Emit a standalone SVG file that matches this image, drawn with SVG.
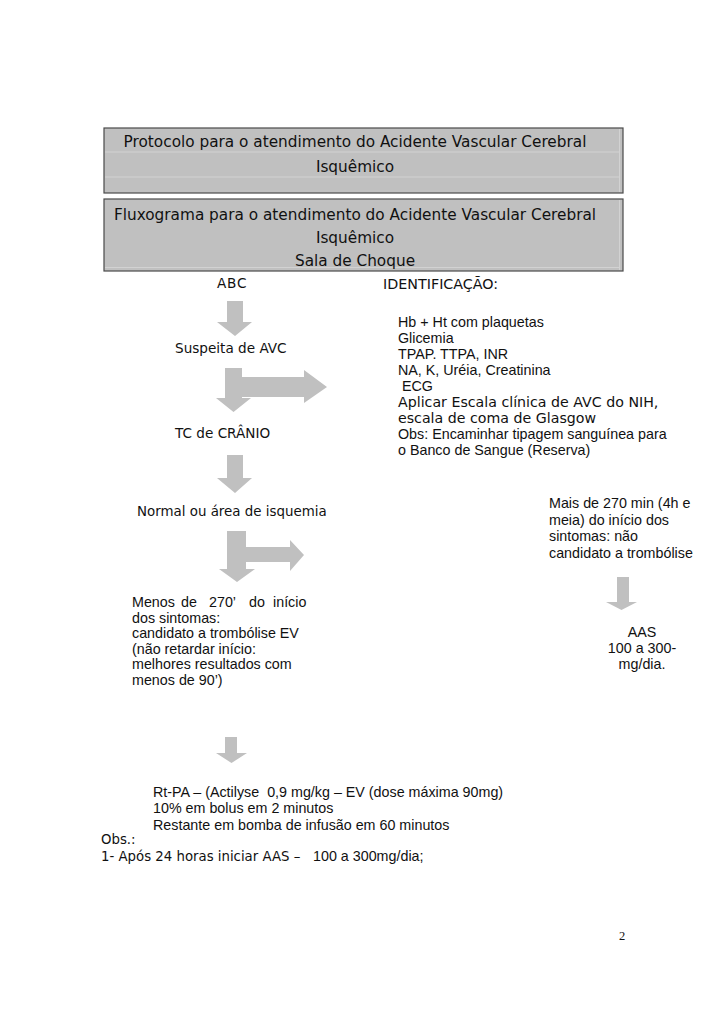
<svg xmlns="http://www.w3.org/2000/svg" width="728" height="1029" viewBox="0 0 728 1029">
<style>
.dv{font-family:"DejaVu Sans",sans-serif;fill:#111}
.ar{font-family:"Liberation Sans",Arial,sans-serif;fill:#111;font-size:14.3px}
.tt{font-family:"DejaVu Sans",sans-serif;fill:#111;font-size:15.3px;text-anchor:middle}
.box{fill:#c0c0c0;stroke:#4a4a4a;stroke-width:1.2}
.fl{stroke:#d2d2d2;stroke-width:1;fill:none}
.arw{fill:#c0c0c0}
.sec{font-size:13.6px}
</style>
<rect width="728" height="1029" fill="#fff"/>
<g id="title1">
<rect class="box" x="104" y="128" width="519" height="65"/>
<line class="fl" x1="105" y1="152" x2="619" y2="152"/>
<line class="fl" x1="105" y1="177" x2="619" y2="177"/>
<line class="fl" x1="619.5" y1="129" x2="619.5" y2="192"/>
<text class="tt" x="355" y="147">Protocolo para o atendimento do Acidente Vascular Cerebral</text>
<text class="tt" x="355" y="172">Isquêmico</text>
</g>
<g id="title2">
<rect class="box" x="104" y="199" width="519" height="72"/>
<line class="fl" x1="105" y1="267.5" x2="619" y2="267.5"/>
<line class="fl" x1="619.5" y1="200" x2="619.5" y2="270"/>
<text class="tt" x="355" y="220">Fluxograma para o atendimento do Acidente Vascular Cerebral</text>
<text class="tt" x="355" y="243">Isquêmico</text>
<text class="tt" x="355" y="266">Sala de Choque</text>
</g>
<g id="abc"><text class="dv sec" x="217" y="288" letter-spacing="0.8">ABC</text></g>
<g id="suspeita"><text class="dv sec" x="175" y="353">Suspeita de AVC</text></g>
<g id="tc"><text class="dv sec" x="175" y="438">TC de CRÂNIO</text></g>
<g id="normal"><text class="dv" font-size="13.4" x="137" y="516">Normal ou área de isquemia</text></g>
<g id="identificacao">
<text class="dv" font-size="14.3" x="383" y="289">IDENTIFICAÇÃO:</text>
<text class="ar" x="398" y="327">Hb + Ht com plaquetas</text>
<text class="ar" x="398" y="343">Glicemia</text>
<text class="ar" x="398" y="359">TPAP. TTPA, INR</text>
<text class="ar" x="398" y="375">NA, K, Uréia, Creatinina</text>
<text class="ar" x="402" y="391">ECG</text>
<text class="dv" font-size="14.2" x="398" y="407">Aplicar Escala clínica de AVC do NIH,</text>
<text class="dv" font-size="14.2" x="398" y="423">escala de coma de Glasgow</text>
<text class="ar" x="398" y="438.5">Obs: Encaminhar tipagem sanguínea para</text>
<text class="ar" x="398" y="454.5">o Banco de Sangue (Reserva)</text>
</g>
<g id="mais">
<text class="ar" x="549" y="508">Mais de 270 min (4h e</text>
<text class="ar" x="549" y="524.5">meia) do início dos</text>
<text class="ar" x="549" y="541">sintomas: não</text>
<text class="ar" x="549" y="557.5">candidato a trombólise</text>
</g>
<g id="aas">
<text class="ar" x="642" y="637" text-anchor="middle">AAS</text>
<text class="ar" x="642" y="653" text-anchor="middle">100 a 300-</text>
<text class="ar" x="642" y="669" text-anchor="middle">mg/dia.</text>
</g>
<g id="menos">
<text class="ar" y="607"><tspan x="132">Menos</tspan><tspan x="181">de</tspan><tspan x="209">270’</tspan><tspan x="249">do</tspan><tspan x="273">início</tspan></text>
<text class="ar" x="132" y="622.5">dos sintomas:</text>
<text class="ar" x="132" y="638">candidato a trombólise EV</text>
<text class="ar" x="132" y="653.5">(não retardar início:</text>
<text class="ar" x="132" y="669">melhores resultados com</text>
<text class="ar" x="132" y="684.5">menos de 90’)</text>
</g>
<g id="rtpa">
<text class="ar" x="153" y="797" style="white-space:pre">Rt-PA – (Actilyse  0,9 mg/kg – EV (dose máxima 90mg)</text>
<text class="ar" x="153" y="813">10% em bolus em 2 minutos</text>
<text class="ar" x="153" y="829.5">Restante em bomba de infusão em 60 minutos</text>
</g>
<g id="obs">
<text class="dv" font-size="13.3" x="101" y="844">Obs.:</text>
<text class="dv" font-size="13.3" x="101" y="861">1- Após 24 horas iniciar AAS –</text>
<text class="ar" x="313" y="861">100 a 300mg/dia;</text>
</g>
<g id="page"><text x="619" y="940" font-family="'Liberation Serif',serif" font-size="12.5" fill="#111">2</text></g>
<g id="connectors">
<polygon class="arw" points="227,301 243,301 243,322 252,322 235,336 217,322 227,322"/>
<polygon class="arw" points="225,368 242,368 242,377 304,377 304,370 327,387 304,403 304,397 242,397 242,398 251,398 233.5,412 216,398 225,398"/>
<polygon class="arw" points="227,455 243,455 243,478 252,478 235,493 217,478 227,478"/>
<polygon class="arw" points="227,531 246,531 246,547 290,547 290,540 304,555 290,571 290,562 246,562 246,569 255,569 237,582 219,569 227,569"/>
<polygon class="arw" points="617,577 629,577 629,602 637,602 621.5,610 606,602 617,602"/>
<polygon class="arw" points="225,737 237,737 237,753 247,753 231.5,763 216,753 225,753"/>
</g>
</svg>
